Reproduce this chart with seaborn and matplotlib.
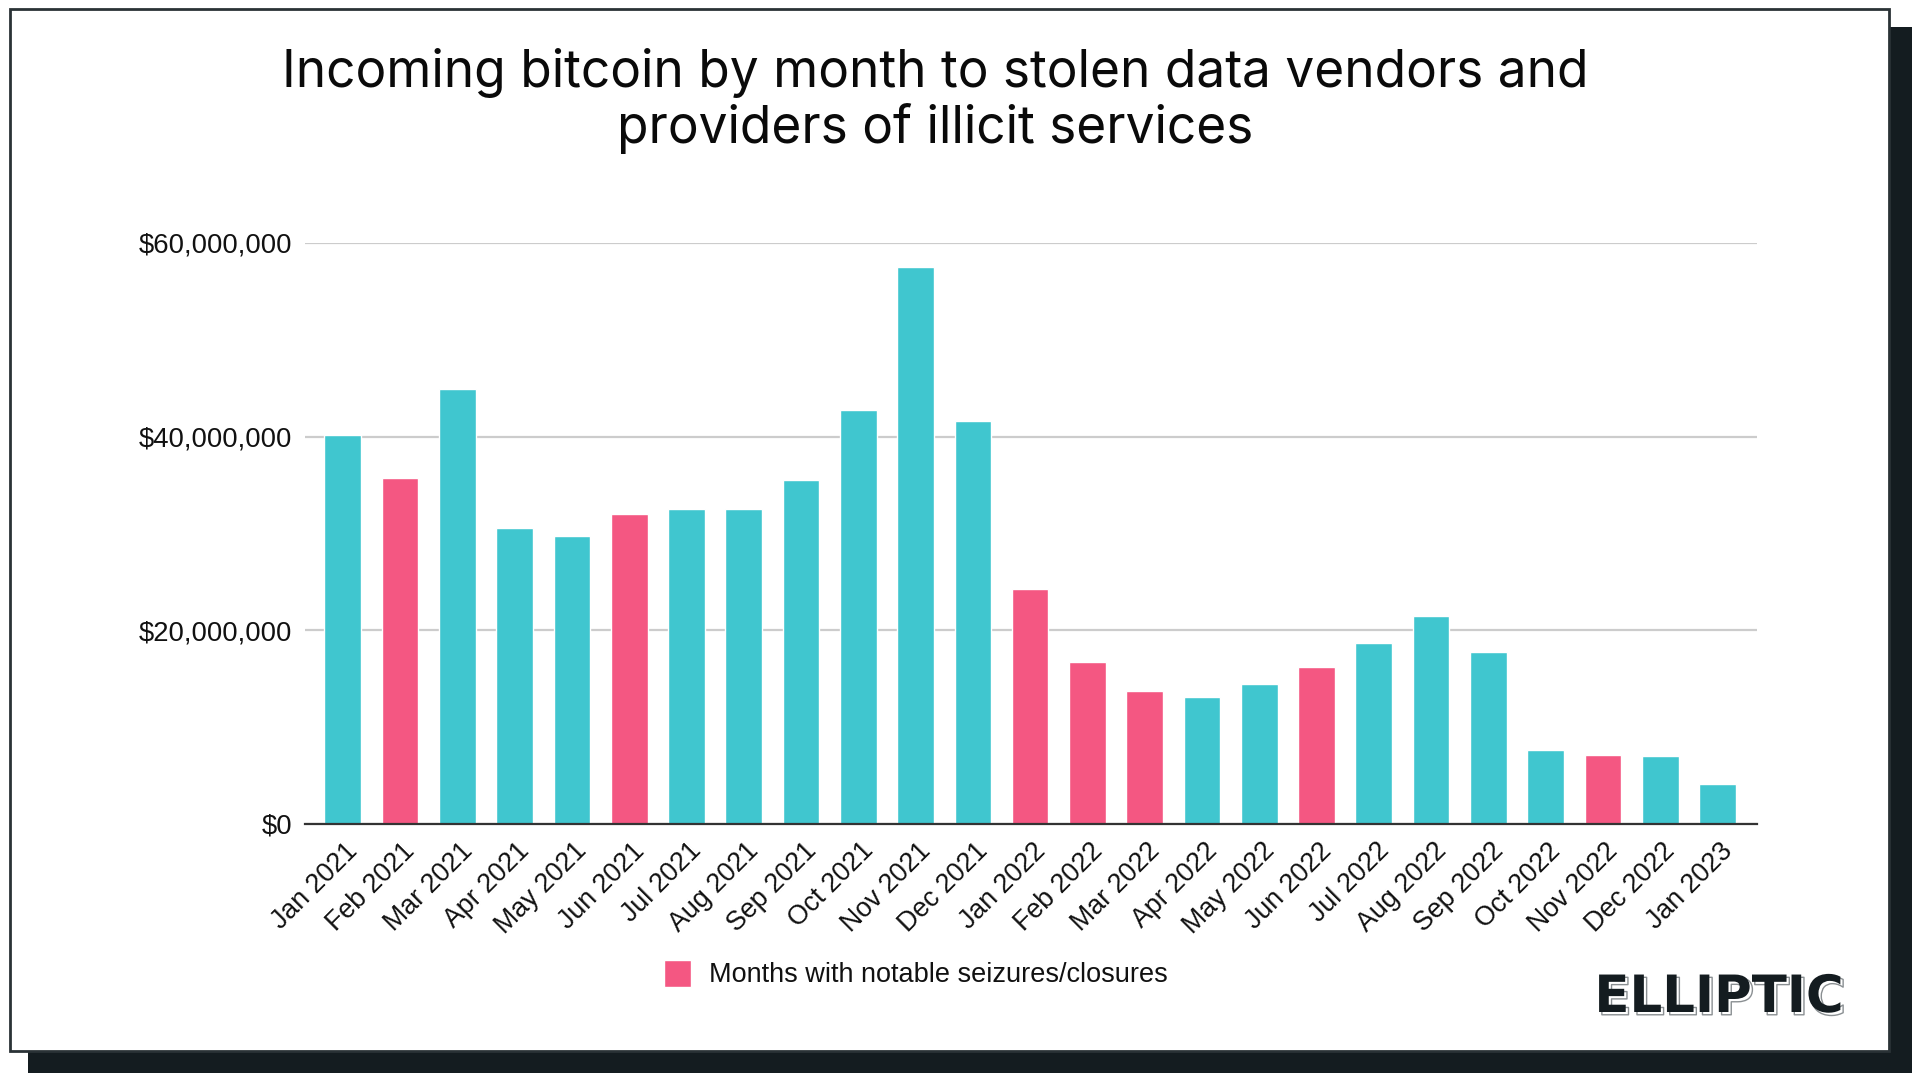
import matplotlib.pyplot as plt
import matplotlib.patheffects as pe
import pandas as pd
import seaborn as sns
from matplotlib.patches import Patch, Rectangle
from matplotlib.transforms import ScaledTranslation

W, H = 1920, 1080

months = [
    "Jan 2021", "Feb 2021", "Mar 2021", "Apr 2021", "May 2021", "Jun 2021", "Jul 2021",
    "Aug 2021", "Sep 2021", "Oct 2021", "Nov 2021", "Dec 2021", "Jan 2022", "Feb 2022",
    "Mar 2022", "Apr 2022", "May 2022", "Jun 2022", "Jul 2022", "Aug 2022", "Sep 2022",
    "Oct 2022", "Nov 2022", "Dec 2022", "Jan 2023",
]
incoming_musd = [
    40.2, 35.7, 44.9, 30.6, 29.7, 32.0, 32.5, 32.5, 35.5, 42.8, 57.5, 41.6, 24.3,
    16.7, 13.7, 13.1, 14.5, 16.2, 18.7, 21.5, 17.8, 7.6, 7.1, 7.0, 4.1,
]
seizure_months = [
    "Feb 2021", "Jun 2021", "Jan 2022", "Feb 2022", "Mar 2022", "Jun 2022", "Nov 2022",
]
y_ticks = [0, 20_000_000, 40_000_000, 60_000_000]
y_labels = ["$0", "$20,000,000", "$40,000,000", "$60,000,000"]

TEAL = "#40C6CF"
PINK = "#F45782"
DARK = "#141C20"

sns.set_theme(style="white")
plt.rcParams["font.family"] = ["Liberation Sans", "DejaVu Sans"]

df = pd.DataFrame({"month": months, "value": [v * 1e6 for v in incoming_musd]})
df["seized"] = df["month"].isin(seizure_months)

fig = plt.figure(figsize=(W / 100, H / 100), dpi=100, facecolor="white")


def box(x0, y0, x1, y1, **kw):
    # pixel box, y counted from the top
    fig.add_artist(Rectangle((x0 / W, 1 - y1 / H), (x1 - x0) / W, (y1 - y0) / H,
                             transform=fig.transFigure, **kw))


box(28, 27, 1912, 1073, facecolor=DARK, edgecolor="none", zorder=-3)
box(10, 9, 1889, 1051, facecolor="white", edgecolor="#2A3236", linewidth=2, zorder=-2)

ax = fig.add_axes([305 / W, 1 - 824 / H, (1757 - 305) / W, (824 - 243) / H])
ax.patch.set_alpha(0)
sns.barplot(
    data=df, x="month", y="value", hue="seized", palette={False: TEAL, True: PINK},
    dodge=False, width=0.64, legend=False, saturation=1, ax=ax, zorder=3,
)
ax.set_xlim(-0.66, 24.69)
ax.set_ylim(0, 60_000_000)
ax.set_yticks(y_ticks)
ax.set_yticklabels(y_labels, fontsize=19.8, color="#111111")
ax.set_xlabel("")
ax.set_ylabel("")
ax.tick_params(axis="y", length=0, pad=9)
ax.tick_params(axis="x", length=0, pad=10)
ax.set_xticks(range(len(months)))
ax.set_xticklabels(months, rotation=45, ha="right", rotation_mode="anchor",
                   fontsize=19.3, color="#111111")
nudge = ScaledTranslation(2 / 100, 0, fig.dpi_scale_trans)
for label in ax.get_xticklabels():
    label.set_transform(label.get_transform() + nudge)
ax.grid(axis="y", color="#CCCCCC", linewidth=1.6, zorder=0)
sns.despine(ax=ax, left=True, top=True, right=True)
ax.spines["bottom"].set_color("#333333")
ax.spines["bottom"].set_linewidth(1.6)
ax.spines["bottom"].set_zorder(4)

fig.legend(
    handles=[Patch(facecolor=PINK, label="Months with notable seizures/closures")],
    loc="center left", bbox_to_anchor=(640 / W, 1 - 974 / H), frameon=False,
    fontsize=19.5, handlelength=1.0, handleheight=1.15, handletextpad=0.65,
    labelcolor="#111111",
)

fig.text(935 / W, 1 - 101 / H,
         "Incoming bitcoin by month to stolen data vendors and\nproviders of illicit services",
         ha="center", va="center", fontsize=37, family=["Inter", "DejaVu Sans"],
         linespacing=1.15, color="#0A0A0A")

logo = fig.text(1719 / W, 1 - 998 / H, "ELLIPTIC", ha="center", va="center", fontsize=37,
                family="DejaVu Sans", weight="bold", color=DARK)
logo.set_path_effects([
    pe.SimplePatchShadow(offset=(2, -2), shadow_rgbFace="white", alpha=1,
                         linewidth=1, foreground="#8A8F92"),
    pe.Normal(),
])

fig.savefig("out.png", dpi=100)
plt.close(fig)
